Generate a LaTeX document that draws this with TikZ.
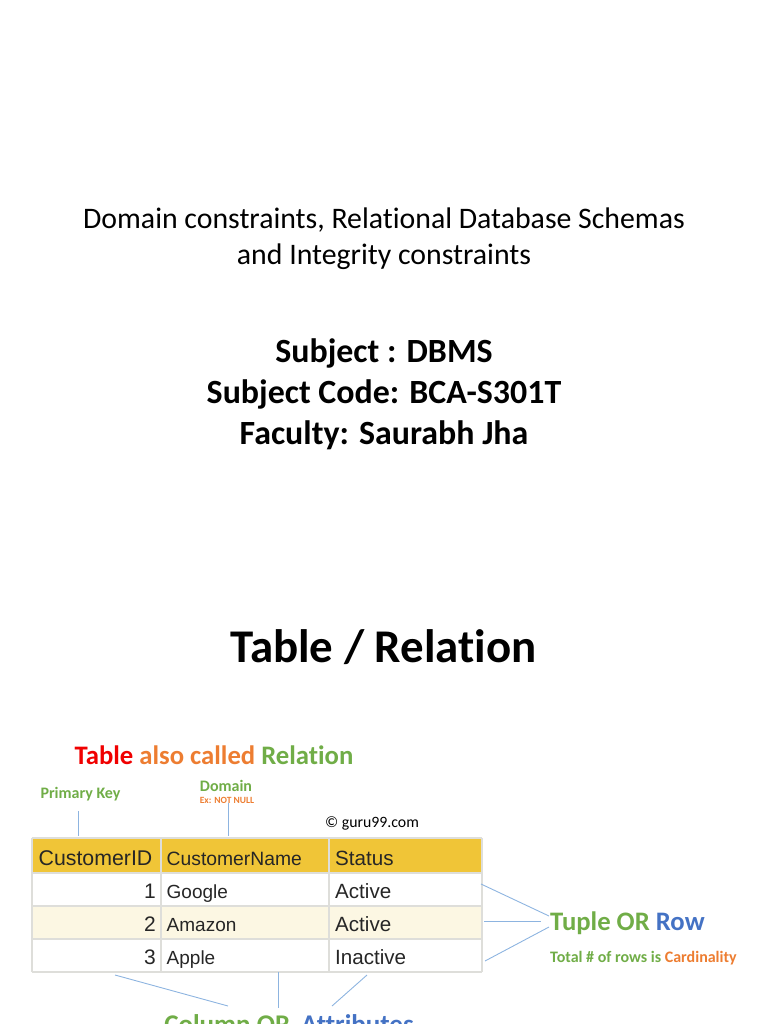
\documentclass[tikz,border=0pt]{standalone}
\usepackage{fontspec}
\setmainfont[Ligatures=NoCommon]{Carlito}
\newfontfamily\cellfont{Liberation Sans}
\definecolor{hdryellow}{HTML}{F0C537}
\definecolor{rowcream}{HTML}{FCF7E3}
\definecolor{gridgrey}{HTML}{DEDEDA}
\definecolor{leadblue}{HTML}{8DB4E0}
\definecolor{txtgreen}{HTML}{70AD47}
\definecolor{txtorange}{HTML}{ED7D31}
\definecolor{txtblue}{HTML}{4472C4}
\definecolor{txtred}{HTML}{F00000}
\tikzset{
	title/.style={inner sep=0, align=center, font=\fontsize{29.8}{36}\selectfont},
	subject/.style={inner sep=0, align=center, font=\fontsize{33.9}{41}\selectfont\bfseries},
	cell/.style={inner sep=0, anchor=base west, text=black!85, font=\cellfont\fontsize{20.6}{20}\selectfont},
	namecell/.style={cell, font=\cellfont\fontsize{19}{20}\selectfont},
	num/.style={inner sep=0, anchor=base east, text=black!85, font=\cellfont\fontsize{21}{20}\selectfont},
	lead/.style={draw=leadblue, line width=0.9pt},
	grid/.style={draw=gridgrey, line width=2pt}
}

\begin{document}
\begin{tikzpicture}[x=1pt, y=-1pt]
		%%%%% START %%%%%
		\useasboundingbox (0, 0) rectangle (768, 1024);
		\clip (0, 0) rectangle (768, 1024);
		
		\node[title] (heading) at (384, 238.5) {Domain constraints, Relational Database Schemas\\and Integrity constraints};
		\node[subject] (subject) at (384, 394.5) {Subject : DBMS\\Subject Code: BCA-S301T\\Faculty: Saurabh Jha};
		\node[inner sep=0, font=\fontsize{46.9}{47}\selectfont\bfseries] (tabletitle) at (383.5, 647) {Table / Relation};
		
		\node[inner sep=0, font=\fontsize{26.7}{27}\selectfont\bfseries] (relation) at (214, 755) {\textcolor{txtred}{Table} \textcolor{txtorange}{also called} \textcolor{txtgreen}{Relation}};
		\node[inner sep=0, text=txtgreen, font=\fontsize{16}{16}\selectfont\bfseries] (primary) at (80.5, 794.5) {Primary Key};
		\node[inner sep=0, text=txtgreen, font=\fontsize{16}{16}\selectfont\bfseries] (domain) at (226, 785.5) {Domain};
		\node[inner sep=0, text=txtorange, font=\fontsize{9.5}{10}\selectfont\bfseries] (notnull) at (227, 800) {Ex: NOT NULL};
		\node[inner sep=0, font=\fontsize{15.8}{16}\selectfont] (guru) at (372, 823) {\textcopyright\ guru99.com};
		
		% table
		\fill[hdryellow] (32, 838) rectangle (482, 873);
		\fill[rowcream] (32, 906) rectangle (482, 939);
		\foreach \y in {838, 873, 906, 939, 972} {
			\draw[grid] (32, \y) -- (482, \y);
		}
		\foreach \x in {32, 161, 329, 482} {
			\draw[grid] (\x, 838) -- (\x, 972);
		}
		
		\node[cell, font=\cellfont\fontsize{21.3}{20}\selectfont] (hid) at (38.5, 865) {CustomerID};
		\node[cell, font=\cellfont\fontsize{19.3}{20}\selectfont] (hname) at (166.5, 865) {CustomerName};
		\node[cell] (hstatus) at (335, 865) {Status};
		
		\node[num] (n1) at (156, 898) {1};
		\node[namecell] (name1) at (166.5, 898) {Google};
		\node[cell] (st1) at (335, 898) {Active};
		\node[num] (n2) at (156, 931) {2};
		\node[namecell] (name2) at (166.5, 931) {Amazon};
		\node[cell] (st2) at (335, 931) {Active};
		\node[num] (n3) at (156, 964) {3};
		\node[namecell] (name3) at (166.5, 964) {Apple};
		\node[cell] (st3) at (335, 964) {Inactive};
		
		\node[inner sep=0, anchor=base west, font=\fontsize{26.7}{27}\selectfont\bfseries] (tuple) at (550, 930) {\textcolor{txtgreen}{Tuple OR} \textcolor{txtblue}{Row}};
		\node[inner sep=0, anchor=base west, text=txtgreen, font=\fontsize{16}{16}\selectfont\bfseries] (total) at (550, 962) {Total \# of rows is \textcolor{txtorange}{Cardinality}};
		\node[inner sep=0, anchor=base, font=\fontsize{27}{28}\selectfont\bfseries] (column) at (289, 1033) {\textcolor{txtgreen}{Column OR}\hspace{11pt}\textcolor{txtblue}{Attributes}};
		
		% leaders, free ends
		\coordinate (pktop) at (78, 811);
		\coordinate (pkend) at (78, 836);
		\coordinate (domtop) at (228, 803);
		\coordinate (domend) at (228, 836);
		\coordinate (row1) at (481, 884);
		\coordinate (row2) at (484, 921);
		\coordinate (row3) at (485, 961);
		\coordinate (tup1) at (549, 916);
		\coordinate (tup2) at (541, 921);
		\coordinate (tup3) at (549, 927);
		\coordinate (col1) at (115, 975);
		\coordinate (col2) at (278, 972);
		\coordinate (col3) at (367, 975);
		\coordinate (colA) at (228, 1006);
		\coordinate (colB) at (278, 1008);
		\coordinate (colC) at (332, 1006);
		
		\draw[lead] (pktop) -- (pkend);
		\draw[lead] (domtop) -- (domend);
		\draw[lead] (row1) -- (tup1);
		\draw[lead] (row2) -- (tup2);
		\draw[lead] (row3) -- (tup3);
		\draw[lead] (col1) -- (colA);
		\draw[lead] (col2) -- (colB);
		\draw[lead] (col3) -- (colC);
		
		%%%%% END %%%%%
	\end{tikzpicture}
\end{document}
